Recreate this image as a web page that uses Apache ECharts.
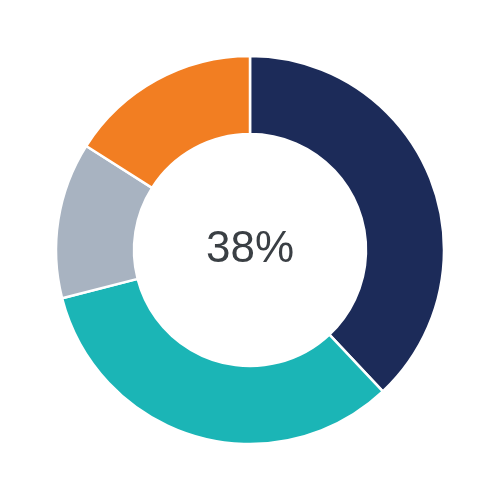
<!DOCTYPE html>
<html>
<head>
<meta charset="utf-8">
<script src="https://cdn.jsdelivr.net/npm/echarts@6/dist/echarts.min.js"></script>
<style>
html,body{margin:0;padding:0;background:#fff;}
#c{width:500px;height:500px;}
</style>
</head>
<body>
<div id="c"></div>
<script>
const categories = ['A', 'B', 'C', 'D'];
const values = [38, 33, 13, 16];
const colors = ['#1c2b59', '#1bb5b6', '#a8b3c1', '#f27e22'];
const centerLabel = '38%';

const chart = echarts.init(document.getElementById('c'), null, {renderer: 'canvas'});
chart.setOption({
  animation: false,
  title: {
    text: centerLabel,
    left: 'center',
    top: 'middle',
    textStyle: {fontFamily: 'Liberation Sans, Arial, sans-serif', fontSize: 44, fontWeight: 'normal', color: '#3a3f44'}
  },
  series: [{
    type: 'pie',
    center: [250, 250],
    radius: [116, 194],
    startAngle: 90,
    clockwise: true,
    label: {show: false},
    labelLine: {show: false},
    itemStyle: {borderColor: '#ffffff', borderWidth: 2.5},
    emphasis: {disabled: true},
    data: categories.map((c, i) => ({name: c, value: values[i], itemStyle: {color: colors[i]}}))
  }]
});
</script>
</body>
</html>
